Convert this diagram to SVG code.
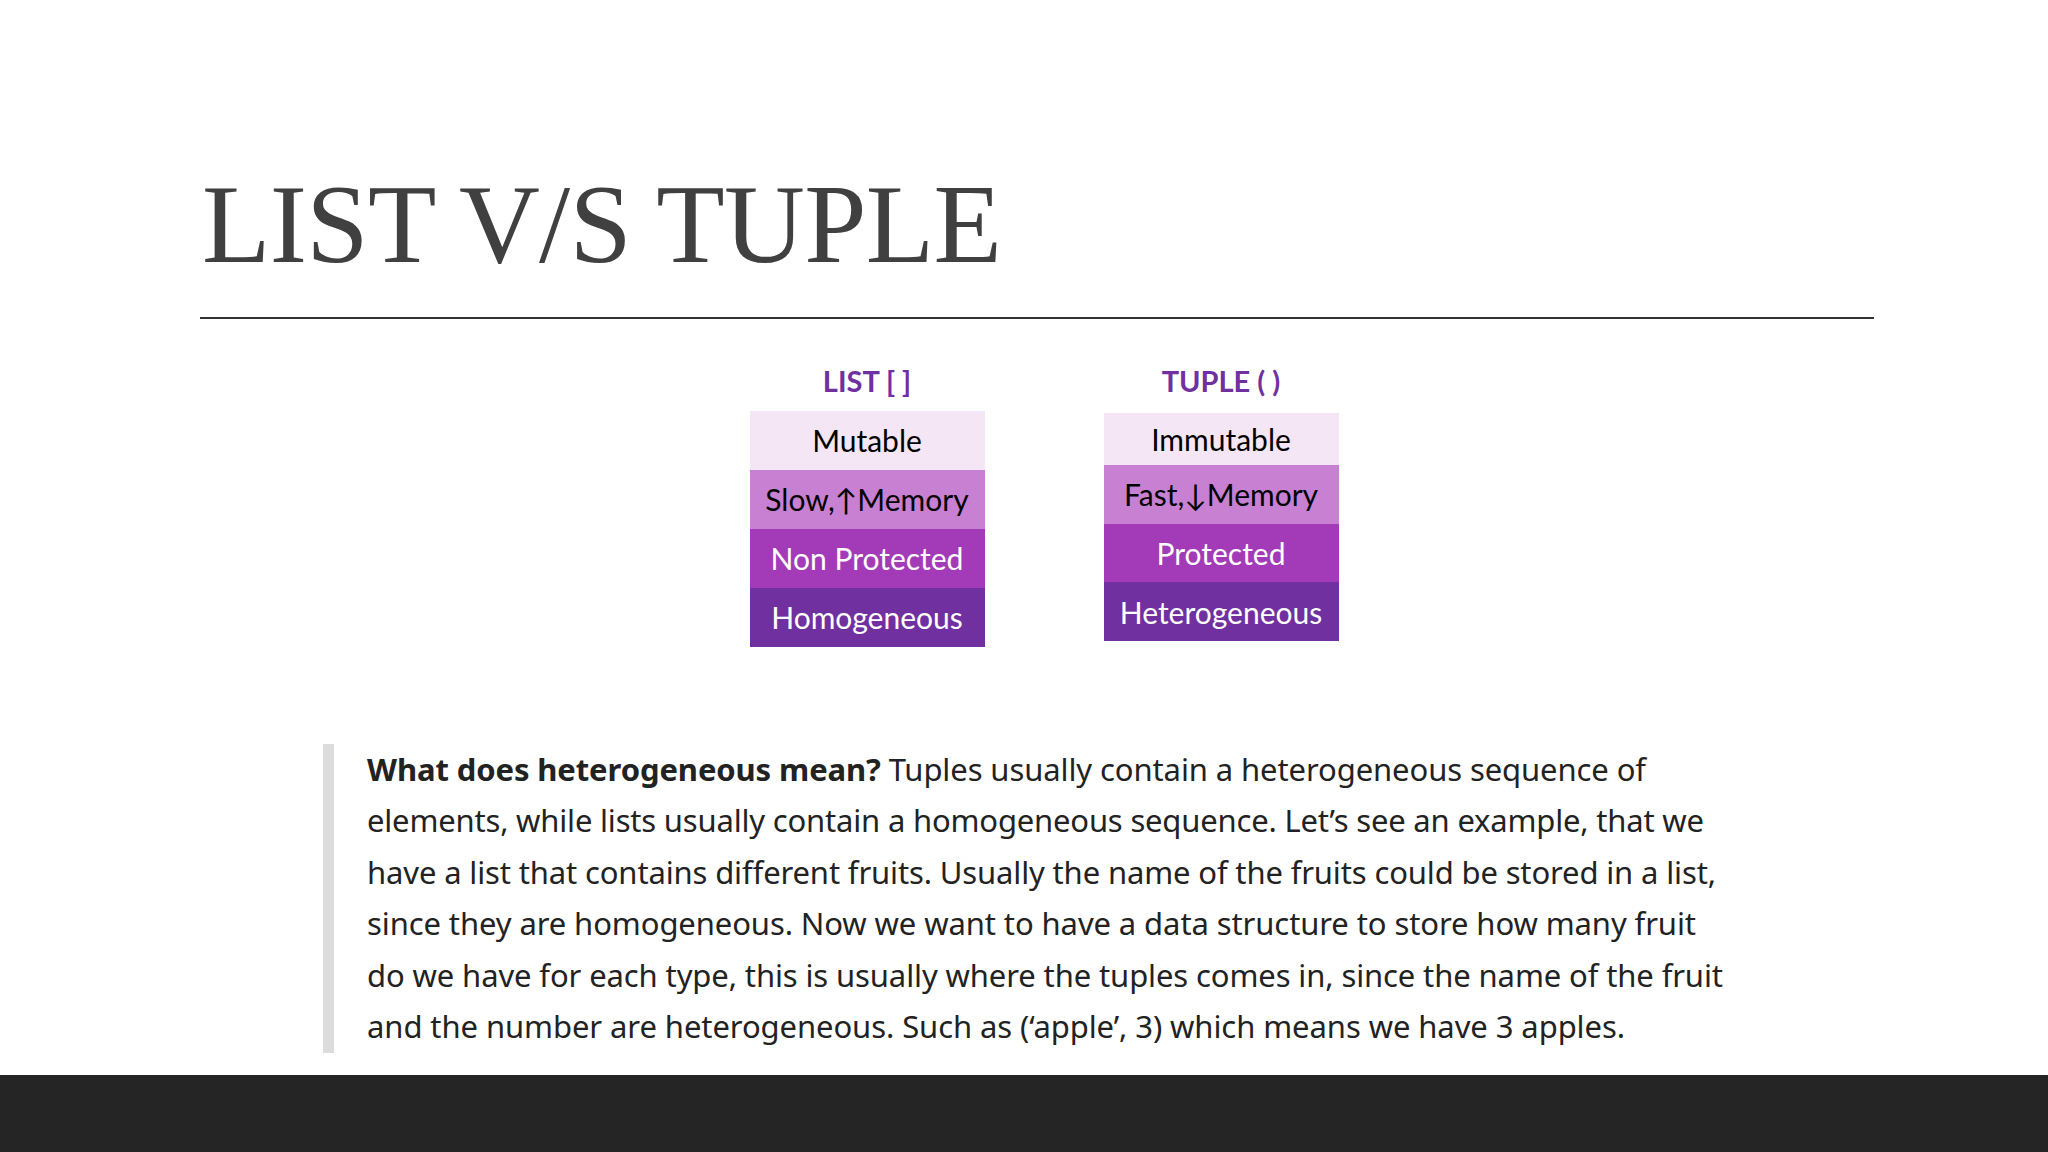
<svg xmlns="http://www.w3.org/2000/svg" width="2048" height="1152" viewBox="0 0 2048 1152">
<style>
.cell{font-family:Lato,"Open Sans",sans-serif;font-size:30px;text-anchor:middle}
.hd{font-family:Lato,"Open Sans",sans-serif;font-size:29px;font-weight:bold;fill:#7030a0;text-anchor:middle}
.p{font-family:"Noto Sans","Open Sans",sans-serif;font-size:31px;fill:#222}
.r1{fill:#f4e6f4}.r2{fill:#c880d2}.r3{fill:#a33bb8}.r4{fill:#70309f}
</style>
<rect width="2048" height="1152" fill="#fff"/>
<text x="202" y="262" font-family="Liberation Serif,serif" font-size="112" fill="#404040" textLength="800">LIST V/S TUPLE</text>
<line x1="200" y1="318" x2="1874" y2="318" stroke="#333" stroke-width="2"/>
<g id="list">
<text class="hd" x="867" y="392">LIST [ ]</text>
<rect class="r1" x="750" y="411" width="235" height="59"/>
<rect class="r2" x="750" y="470" width="235" height="59"/>
<rect class="r3" x="750" y="529" width="235" height="59"/>
<rect class="r4" x="750" y="588" width="235" height="59"/>
<text class="cell" x="867" y="452" fill="#000">Mutable</text>
<text class="cell" x="867" y="511" fill="#000">Slow,↑Memory</text>
<text class="cell" x="867" y="570" fill="#fff">Non Protected</text>
<text class="cell" x="867" y="629" fill="#fff">Homogeneous</text>
</g>
<g id="tuple">
<text class="hd" x="1221" y="392">TUPLE ( )</text>
<rect class="r1" x="1104" y="413" width="235" height="52"/>
<rect class="r2" x="1104" y="465" width="235" height="59"/>
<rect class="r3" x="1104" y="524" width="235" height="58"/>
<rect class="r4" x="1104" y="582" width="235" height="59"/>
<text class="cell" x="1221" y="451" fill="#000">Immutable</text>
<text class="cell" x="1221" y="506" fill="#000">Fast,↓Memory</text>
<text class="cell" x="1221" y="565" fill="#fff">Protected</text>
<text class="cell" x="1221" y="624" fill="#fff">Heterogeneous</text>
</g>
<g id="connectors"/>
<rect x="323" y="744" width="11" height="309" fill="#dcdcdc"/>
<text class="p" x="367" y="781" textLength="1279"><tspan font-weight="bold">What does heterogeneous mean?</tspan> Tuples usually contain a heterogeneous sequence of</text>
<text class="p" x="367" y="832" textLength="1337">elements, while lists usually contain a homogeneous sequence. Let’s see an example, that we</text>
<text class="p" x="367" y="884" textLength="1349">have a list that contains different fruits. Usually the name of the fruits could be stored in a list,</text>
<text class="p" x="367" y="935" textLength="1329">since they are homogeneous. Now we want to have a data structure to store how many fruit</text>
<text class="p" x="367" y="987" textLength="1356">do we have for each type, this is usually where the tuples comes in, since the name of the fruit</text>
<text class="p" x="367" y="1038" textLength="1258">and the number are heterogeneous. Such as (‘apple’, 3) which means we have 3 apples.</text>
<rect x="0" y="1075" width="2048" height="77" fill="#252525"/>
</svg>
